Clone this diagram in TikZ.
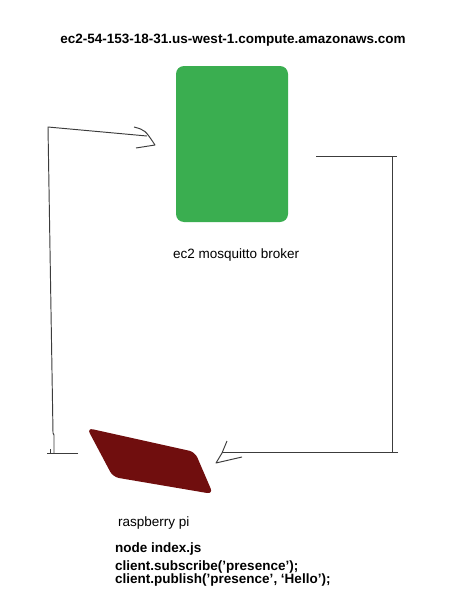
\documentclass[tikz,border=0pt]{standalone}
\usepackage{fontspec}
\setmainfont{Liberation Sans}
\definecolor{brokergreen}{RGB}{58,174,80}
\definecolor{pired}{RGB}{112,14,14}
\definecolor{wire}{RGB}{60,60,60}
\begin{document}
\begin{tikzpicture}[x=1pt,y=-1pt,
  wirestyle/.style={draw=wire,line width=0.95pt,line join=round},
  label/.style={inner sep=0pt,anchor=west},
  boldlabel/.style={inner sep=0pt,anchor=west,font=\fontsize{13.5}{14}\selectfont\bfseries}]
\useasboundingbox[fill=white] (0,0) rectangle (474,613);
% title
\node[inner sep=0pt,font=\fontsize{13.5}{14}\selectfont\bfseries] (title) at (233,40) {ec2-54-153-18-31.us-west-1.compute.amazonaws.com};
% broker
\node[fill=brokergreen,rounded corners=8pt,minimum width=112pt,minimum height=156pt,inner sep=0pt] (broker) at (232,144) {};
\node[label,font=\fontsize{13.5}{14}\selectfont] (brokerlabel) at (173,255) {ec2 mosquitto broker};
% raspberry pi
\coordinate (pa) at (87,428);
\coordinate (pb) at (195,452);
\coordinate (pc) at (213,494);
\coordinate (pd) at (113,477);
\fill[pired,rounded corners=6pt] (pa) -- (pb) -- (pc) -- (pd) -- cycle;
\node[label,font=\fontsize{13.5}{14}\selectfont] (pilabel) at (118,523) {raspberry pi};
\node[boldlabel] (cmd) at (115,549) {node index.js};
\node[boldlabel] (sub) at (115,567) {client.subscribe('presence');};
\node[boldlabel] (pub) at (115,580) {client.publish('presence', `Hello');};
% left connector (pi -> broker)
\coordinate (l0) at (78,453);
\coordinate (l1) at (47,453);
\coordinate (l2) at (54,453);
\coordinate (l3) at (48,127);
\coordinate (l4) at (147,136);
\coordinate (ltip) at (155,145);
\draw[wirestyle] (l0) -- (l1);
\draw[wirestyle] (50,453) -- (50,449);
\draw[wirestyle] (l2) -- (54,435) -- (53,433) -- (l3) -- (l4);
\draw[wirestyle] (134,127) .. controls (145,130) .. (ltip) -- (136,148);
% right connector (broker -> pi)
\coordinate (r0) at (316,156);
\coordinate (r1) at (397,156);
\coordinate (r2) at (392,156);
\coordinate (r3) at (392,452);
\coordinate (r4) at (398,452);
\coordinate (r5) at (222,452);
\coordinate (rtip) at (216,463);
\draw[wirestyle] (r0) -- (r1);
\draw[wirestyle] (r2) -- (r3);
\draw[wirestyle] (r4) -- (r5);
\draw[wirestyle] (227,441) -- (222,453) -- (rtip) -- (242,457);
\end{tikzpicture}
\end{document}
